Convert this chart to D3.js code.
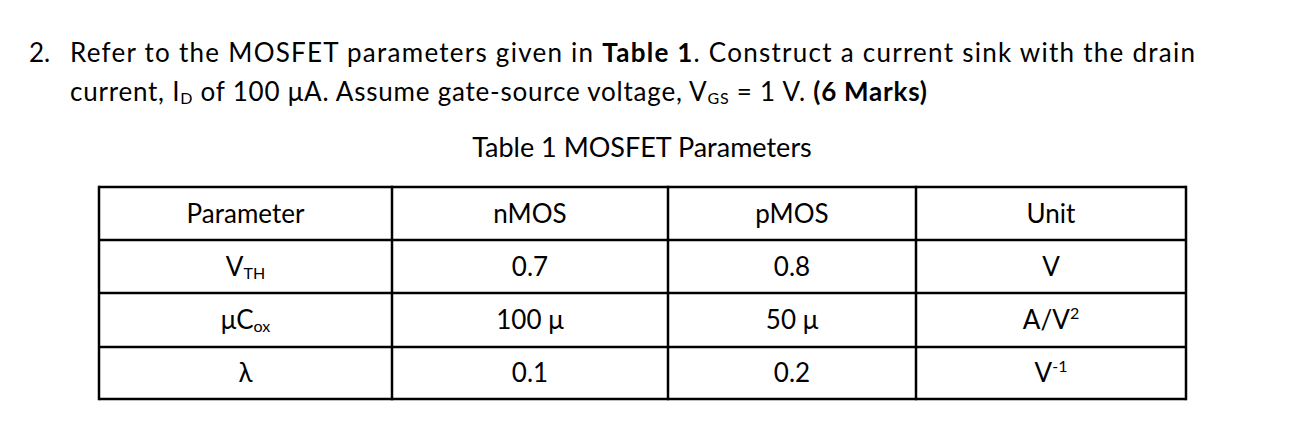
<!DOCTYPE html>
<html><head><meta charset="utf-8">
<script src="https://cdn.jsdelivr.net/npm/d3@7"></script>
<style>body{margin:0;background:#fff}svg{display:block}</style>
</head><body>
<script>
const headers = ["Parameter","nMOS","pMOS","Unit"];
const params = [["V","TH"],["μC","ox"],["λ",""]];
const nmos = ["0.7","100 μ","0.1"];
const pmos = ["0.8","50 μ","0.2"];
const units = [["V",""],["A/V","2"],["V","-1"]];
const colEdges = [99,392,668,916,1186];
const rowEdges = [187,240,293,347,399];
const FONT = "Lato, 'Open Sans', sans-serif";
const svg = d3.select("body").append("svg").attr("width",1290).attr("height",442)
  .style("font-family",FONT).style("font-size","26px").attr("fill","#000");

svg.append("text").attr("x",29).attr("y",62).text("2.");
const l1 = svg.append("text").attr("x",70).attr("y",62).attr("textLength",1125).attr("lengthAdjust","spacing");
l1.append("tspan").text("Refer to the MOSFET parameters given in ");
l1.append("tspan").attr("font-weight","bold").text("Table 1");
l1.append("tspan").text(". Construct a current sink with the drain");
const l2 = svg.append("text").attr("x",70).attr("y",101).attr("textLength",857).attr("lengthAdjust","spacing");
l2.append("tspan").text("current, I");
l2.append("tspan").attr("font-size","16px").attr("dy",3).text("D");
l2.append("tspan").attr("dy",-3).text(" of 100 μA. Assume gate-source voltage, V");
l2.append("tspan").attr("font-size","16px").attr("dy",3).text("GS");
l2.append("tspan").attr("dy",-3).text(" = 1 V. ");
l2.append("tspan").attr("font-weight","bold").text("(6 Marks)");

svg.append("text").attr("x",642).attr("y",157).attr("text-anchor","middle").style("font-size","27px").text("Table 1 MOSFET Parameters");

const g = svg.append("g").attr("stroke","#000").attr("stroke-width",2.5);
colEdges.forEach(x=>g.append("line").attr("x1",x).attr("x2",x).attr("y1",rowEdges[0]-1.25).attr("y2",rowEdges[rowEdges.length-1]+1.25));
rowEdges.forEach(y=>g.append("line").attr("x1",colEdges[0]).attr("x2",colEdges[colEdges.length-1]).attr("y1",y).attr("y2",y));

const cx = i => (colEdges[i]+colEdges[i+1])/2;
const cy = j => (rowEdges[j]+rowEdges[j+1])/2 + 9;
headers.forEach((h,i)=>svg.append("text").attr("x",cx(i)).attr("y",cy(0)).attr("text-anchor","middle").text(h));
function sub(t,i,j,mode){
  const el = svg.append("text").attr("x",cx(i)).attr("y",cy(j)).attr("text-anchor","middle");
  el.append("tspan").text(t[0]);
  if(t[1]) el.append("tspan").attr("font-size","16px").attr("dy",mode==="sup"?-10:3).text(t[1]);
}
params.forEach((p,j)=>sub(p,0,j+1,"sub"));
nmos.forEach((v,j)=>svg.append("text").attr("x",cx(1)).attr("y",cy(j+1)).attr("text-anchor","middle").text(v));
pmos.forEach((v,j)=>svg.append("text").attr("x",cx(2)).attr("y",cy(j+1)).attr("text-anchor","middle").text(v));
units.forEach((u,j)=>sub(u,3,j+1,"sup"));
</script>
</body></html>
